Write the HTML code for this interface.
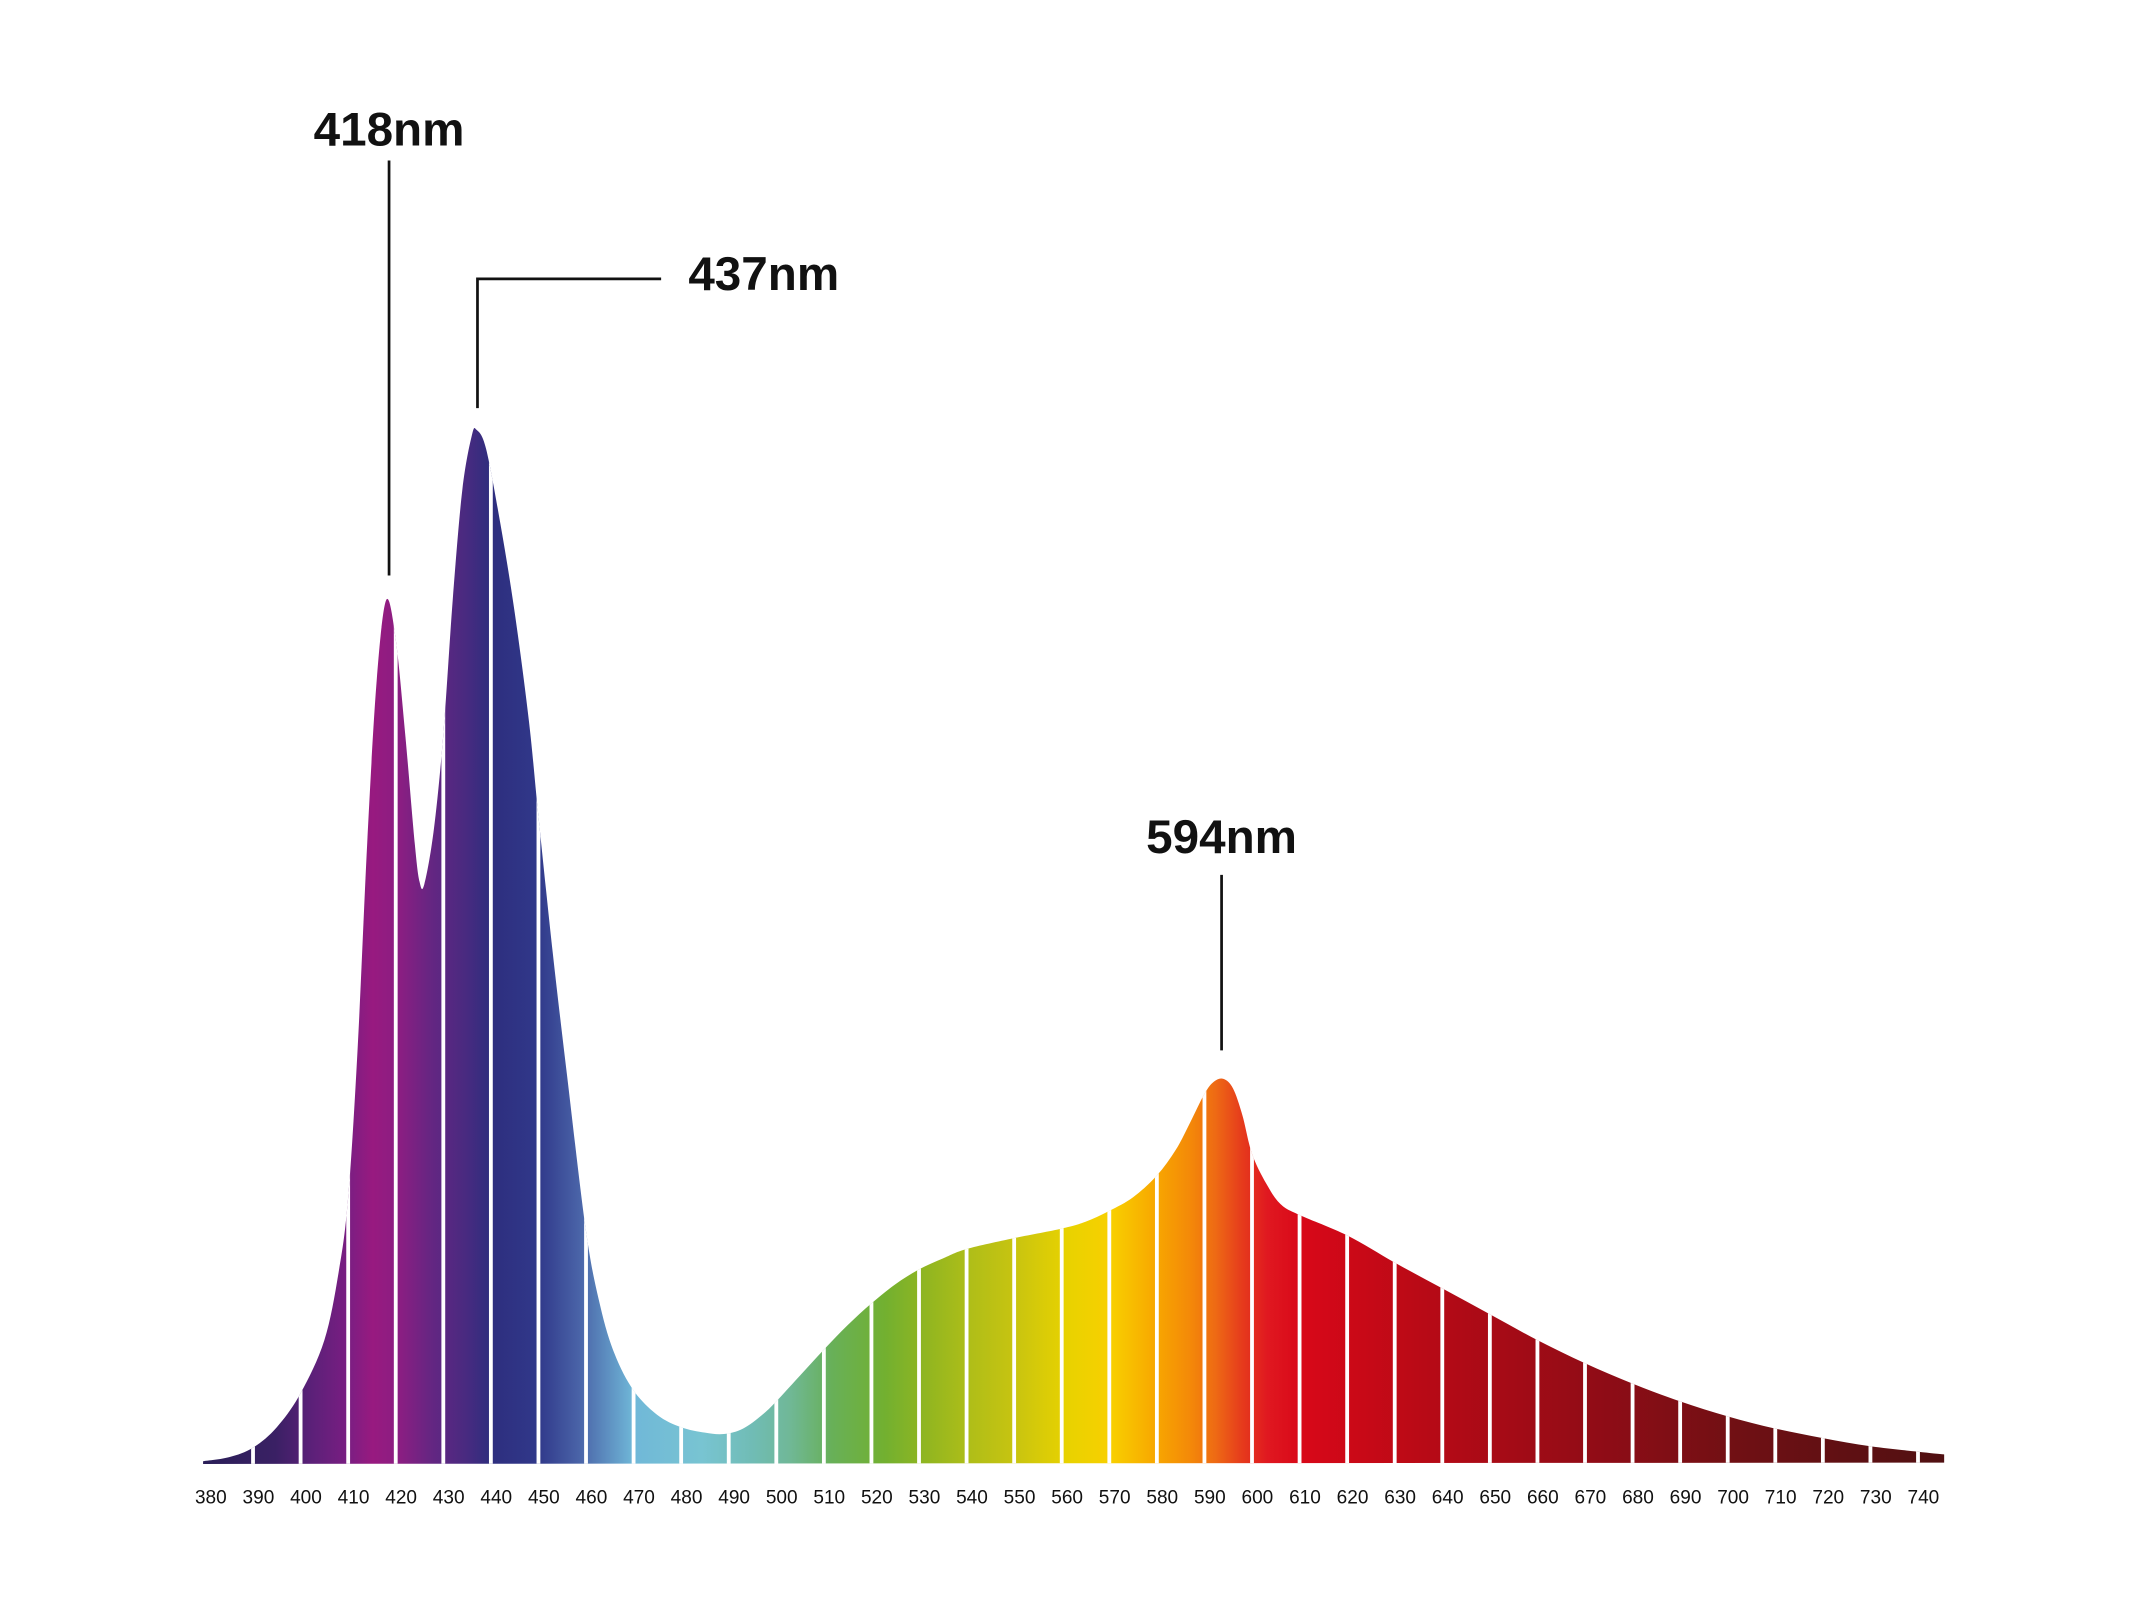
<!DOCTYPE html>
<html><head><meta charset="utf-8"><style>
html,body{margin:0;padding:0;background:#fff;}
svg{display:block;}
text{font-family:"Liberation Sans",sans-serif;}
</style></head><body>
<svg id="s" width="2133" height="1600" viewBox="0 0 1568 1176" preserveAspectRatio="none">
<defs>
<linearGradient id="g" gradientUnits="userSpaceOnUse" x1="151" y1="0" x2="1431" y2="0">
<stop offset="0" stop-color="#2a1e58"/>
<stop offset="0.04" stop-color="#3a2064"/>
<stop offset="0.06" stop-color="#5a2078"/>
<stop offset="0.082" stop-color="#7a1e82"/>
<stop offset="0.096" stop-color="#981a80"/>
<stop offset="0.112" stop-color="#8a1e82"/>
<stop offset="0.13" stop-color="#642682"/>
<stop offset="0.15" stop-color="#482a80"/>
<stop offset="0.164" stop-color="#2e2e7e"/>
<stop offset="0.191" stop-color="#30388a"/>
<stop offset="0.215" stop-color="#4a64a8"/>
<stop offset="0.246" stop-color="#70b8d8"/>
<stop offset="0.285" stop-color="#78c4d2"/>
<stop offset="0.315" stop-color="#70bcb4"/>
<stop offset="0.335" stop-color="#70b898"/>
<stop offset="0.36" stop-color="#68b058"/>
<stop offset="0.39" stop-color="#72b030"/>
<stop offset="0.415" stop-color="#92b620"/>
<stop offset="0.44" stop-color="#b0be18"/>
<stop offset="0.465" stop-color="#c8c410"/>
<stop offset="0.495" stop-color="#e8d200"/>
<stop offset="0.52" stop-color="#f8d000"/>
<stop offset="0.545" stop-color="#f8a800"/>
<stop offset="0.565" stop-color="#f48a08"/>
<stop offset="0.58" stop-color="#ee6a14"/>
<stop offset="0.595" stop-color="#e63c1c"/>
<stop offset="0.61" stop-color="#e01820"/>
<stop offset="0.63" stop-color="#d80818"/>
<stop offset="0.70" stop-color="#b80a16"/>
<stop offset="0.80" stop-color="#900c16"/>
<stop offset="0.88" stop-color="#701014"/>
<stop offset="1" stop-color="#501012"/>
</linearGradient>
<clipPath id="c"><path id="cp"/></clipPath>
</defs>
<g clip-path="url(#c)">
<rect x="140" y="250" width="1300" height="830" fill="url(#g)"/>
<g id="seps" fill="#fff"></g>
</g>
<g stroke="#111" stroke-width="2" fill="none">
<line x1="286" y1="118" x2="286" y2="423"/>
<polyline points="486,205 351,205 351,300"/>
<line x1="898" y1="643" x2="898" y2="772"/>
</g>
<g font-weight="bold" font-size="35" fill="#111">
<text x="286" y="107" text-anchor="middle">418nm</text>
<text x="506" y="213">437nm</text>
<text x="898" y="627" text-anchor="middle">594nm</text>
</g>
<g id="lbl" font-size="14" fill="#111" text-anchor="middle"></g>
</svg>
<script>
var X=function(nm){return 186+(nm-390)*3.497;};
var d=[[379.5,1074],[385,1071],[390,1064],[395,1049],[400,1024],[405,985],[408,935],[410,880],[412,770],[414,620],[416,500],[418,441],[420,470],[422,540],[424,620],[425,648],[426,650],[428,610],[430,540],[432,440],[434,360],[436,320],[437,316],[439,330],[442,385],[445,450],[448,530],[450,600],[453,700],[456,790],[460,905],[463,960],[466,995],[470,1022],[475,1040],[480,1049],[485,1053],[489,1054],[493,1050],[497,1040],[500,1030],[505,1011],[510,992],[515,974],[520,958],[525,944],[530,933],[535,925],[540,918],[550,910],[560,903],[565,898],[570,890],[575,880],[580,864],[584,845],[587,825],[590,804],[592,795],[594,793],[596,800],[598,820],[600,848],[603,870],[606,885],[610,893],[620,908],[630,928],[640,947],[650,966],[660,985],[670,1002],[680,1017],[690,1030],[700,1041],[710,1050],[720,1057],[730,1063],[740,1067],[745.5,1069],[745.5,1075]];
var p=d.map(function(a){return[X(a[0]),a[1]];});
var s="M"+X(379.5)+",1076 L"+p[0][0]+","+p[0][1];
for(var i=0;i<p.length-2;i++){var p0=p[Math.max(0,i-1)],p1=p[i],p2=p[i+1],p3=p[Math.min(p.length-2,i+2)];
s+=" C"+(p1[0]+(p2[0]-p0[0])/6)+","+(p1[1]+(p2[1]-p0[1])/6)+" "+(p2[0]-(p3[0]-p1[0])/6)+","+(p2[1]-(p3[1]-p1[1])/6)+" "+p2[0]+","+p2[1];}
s+=" L"+X(745.5)+",1075 Z";
document.getElementById("cp").setAttribute("d",s);
var g=document.getElementById("seps"),l=document.getElementById("lbl"),ns="http://www.w3.org/2000/svg";
for(var nm=390;nm<=740;nm+=10){var r=document.createElementNS(ns,"rect");r.setAttribute("x",X(nm)-1.4);r.setAttribute("y",200);r.setAttribute("width",2.8);r.setAttribute("height",880);g.appendChild(r);}
for(var nm=380;nm<=740;nm+=10){var t=document.createElementNS(ns,"text");t.setAttribute("x",155+(nm-380)*3.497);t.setAttribute("y",1105);t.textContent=nm;l.appendChild(t);}
</script>
</body></html>
